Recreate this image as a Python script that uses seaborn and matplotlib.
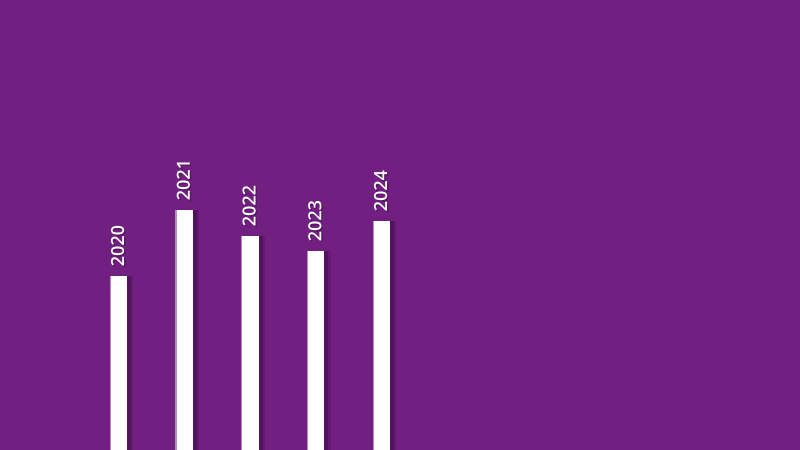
import matplotlib
matplotlib.use("Agg")
import matplotlib.pyplot as plt
import matplotlib.patheffects as pe
import seaborn as sns
import pandas as pd

years = ["2020", "2021", "2022", "2023", "2024"]
values = [174, 240, 214, 199, 229]

BG = "#712081"
sns.set_theme(style="white")
plt.rcParams["font.family"] = ["Open Sans", "DejaVu Sans"]

df = pd.DataFrame({"year": years, "value": values})

fig = plt.figure(figsize=(8, 4.5), dpi=100, facecolor=BG)
ax = fig.add_axes([0, 0, 1, 1])
ax.set_facecolor(BG)

sns.barplot(data=df, x="year", y="value", color="white", width=0.245,
            saturation=1, ax=ax, edgecolor="none")

for p in ax.patches:
    p.set_path_effects([
        pe.SimplePatchShadow(offset=(4.5, 0), shadow_rgbFace="#3e0a4a", alpha=0.25),
        pe.SimplePatchShadow(offset=(3, 0), shadow_rgbFace="#3e0a4a", alpha=0.45),
        pe.SimplePatchShadow(offset=(-1, 0), shadow_rgbFace="#d9b8e0", alpha=0.7),
        pe.Normal()])

for i, (y, v) in enumerate(zip(years, values)):
    ax.annotate(y, (i, v), xytext=(0, 7), textcoords="offset points",
                rotation=90, ha="center", va="bottom", color="white",
                fontsize=13, fontweight="semibold",
                path_effects=[pe.withSimplePatchShadow(offset=(1, -1), shadow_rgbFace="#3e0a4a", alpha=0.5)])

unit = 65.75
ax.set_xlim(-119 / unit, (800 - 119) / unit)
ax.set_ylim(0, 450)
ax.axis("off")

fig.savefig("out.png", dpi=100, facecolor=BG)
